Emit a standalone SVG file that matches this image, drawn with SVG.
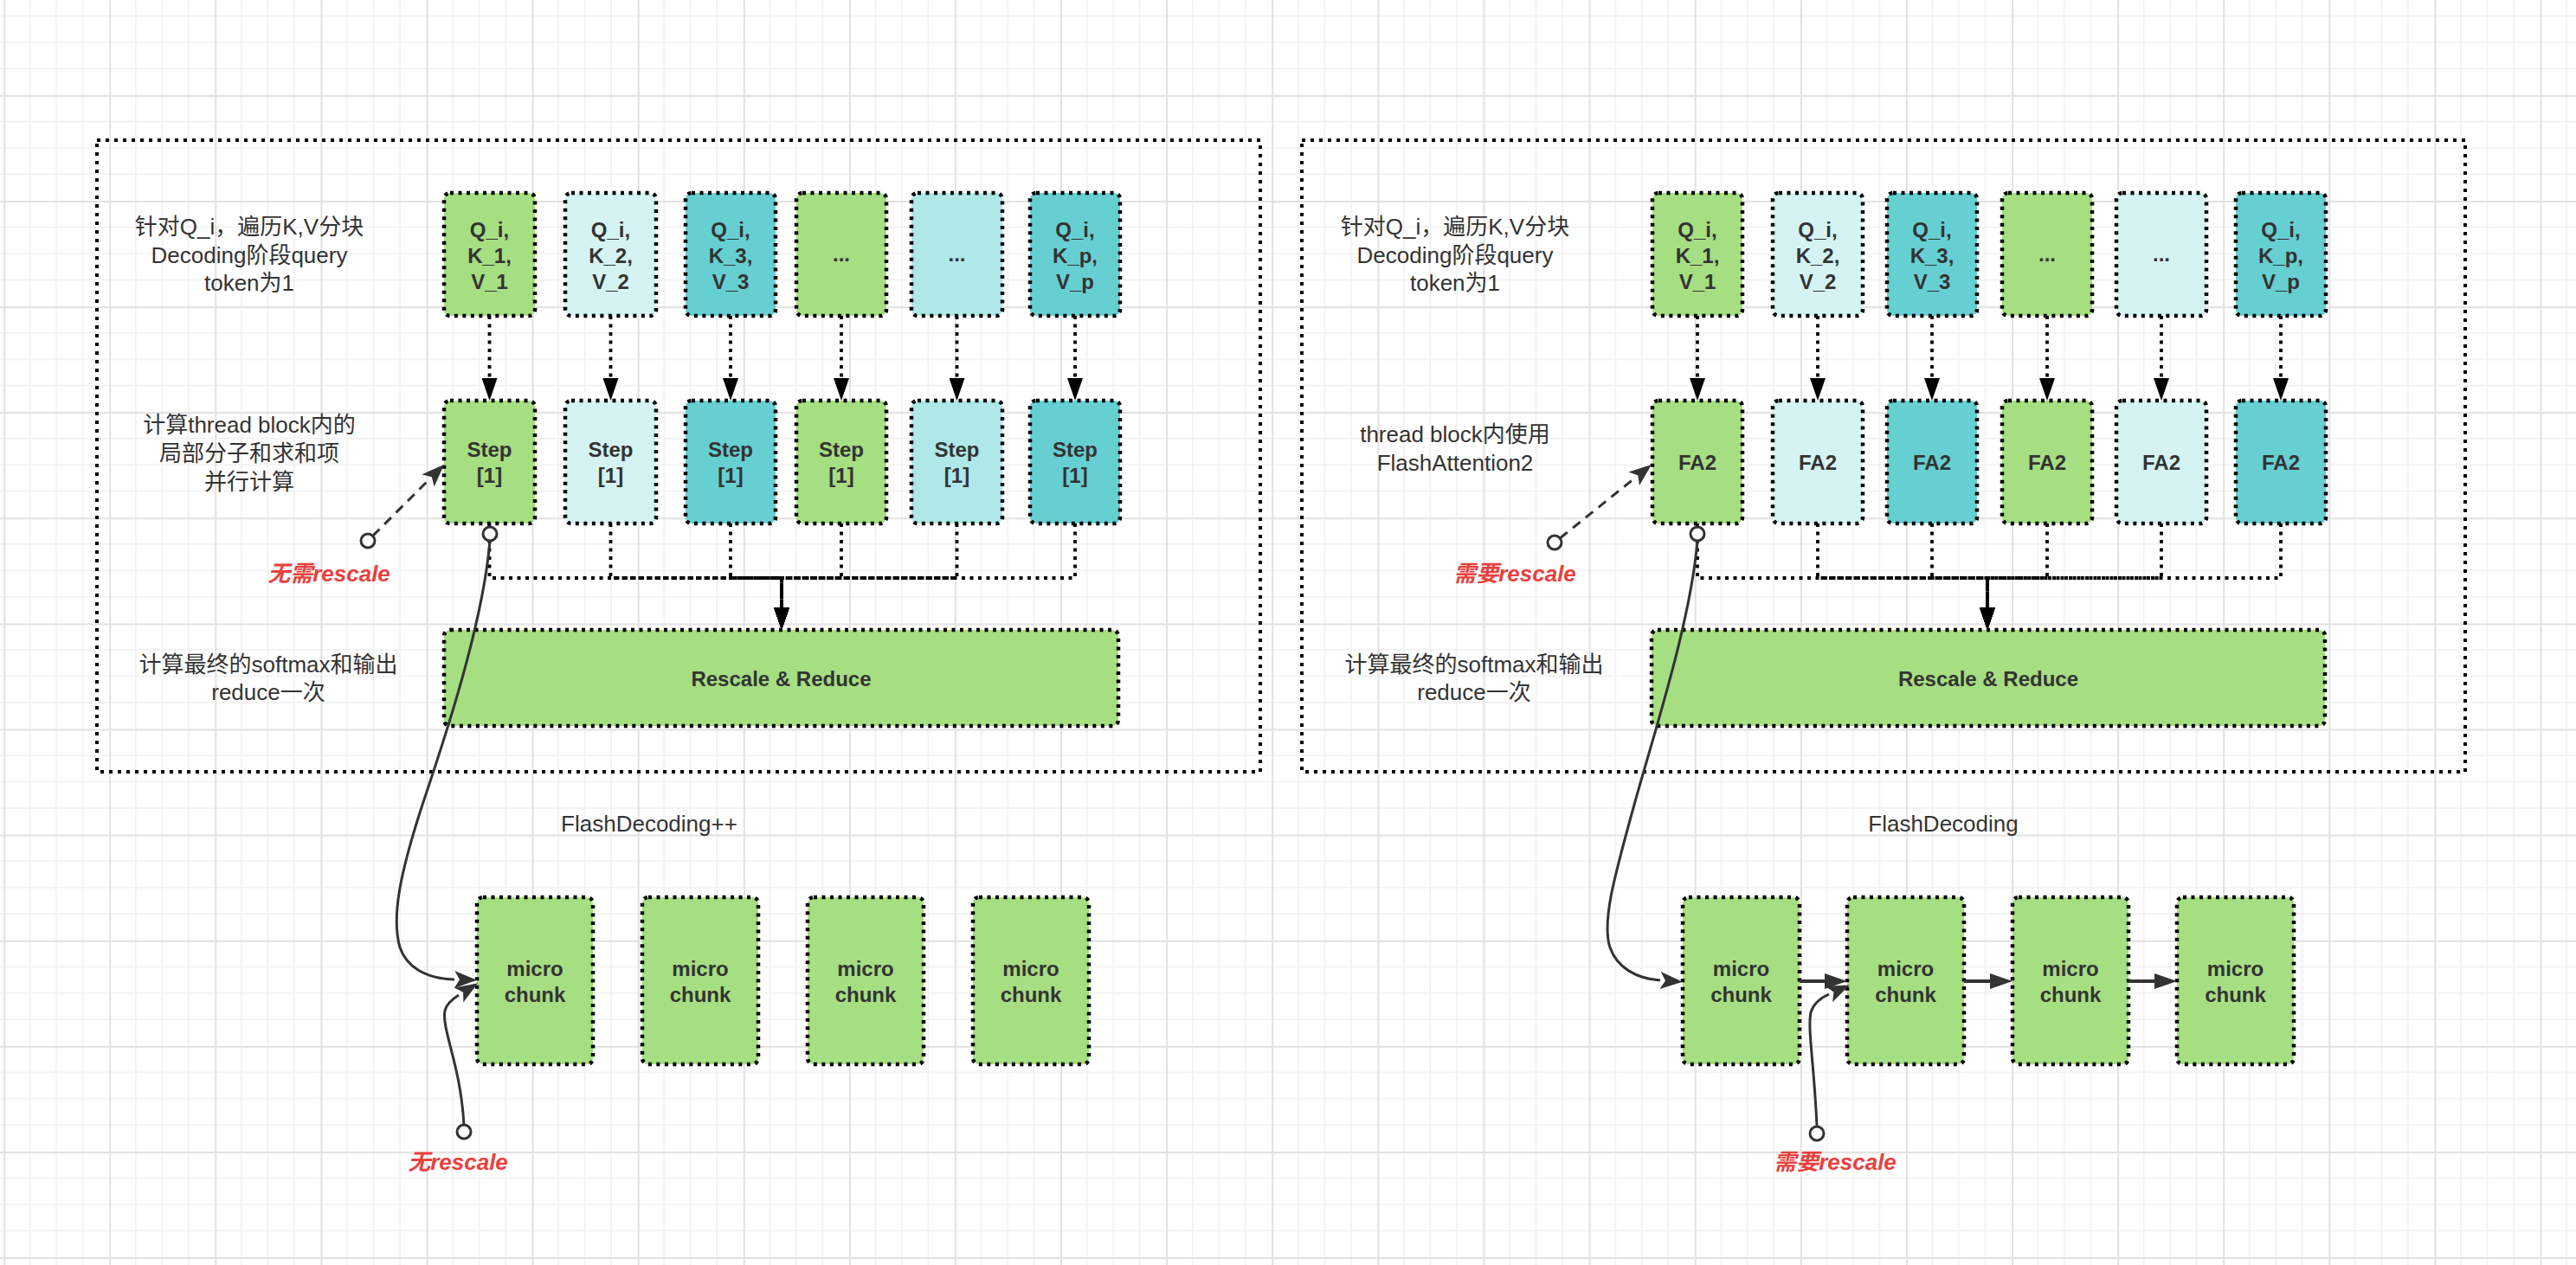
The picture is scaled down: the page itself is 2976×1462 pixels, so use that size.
<svg xmlns="http://www.w3.org/2000/svg" width="2976" height="1462" viewBox="0 0 2976 1462">
<defs>
<pattern id="grid" x="4.1" y="-12.2" width="122.1" height="122.1" patternUnits="userSpaceOnUse">
<path d="M30.5,0V122.1M61.05,0V122.1M91.6,0V122.1M0,30.5H122.1M0,61.05H122.1M0,91.6H122.1" stroke="#f0f0f0" stroke-width="1.6" fill="none"/>
<path d="M1,0V122.1M0,1H122.1" stroke="#e1e1e1" stroke-width="2" fill="none"/>
</pattern>
<marker id="blk" viewBox="0 0 26 18" refX="0" refY="9" markerWidth="26" markerHeight="18" markerUnits="userSpaceOnUse" orient="auto">
<path d="M0,0L26,9L0,18z" fill="#000"/>
</marker>
<marker id="blk2" viewBox="0 0 26 18" refX="0" refY="9" markerWidth="26" markerHeight="18" markerUnits="userSpaceOnUse" orient="auto">
<path d="M0,0L26,9L0,18z" fill="#333"/>
</marker>
<marker id="cls" viewBox="0 0 26 20" refX="0" refY="10" markerWidth="26" markerHeight="20" markerUnits="userSpaceOnUse" orient="auto">
<path d="M0,0L26,10L0,20L6,10z" fill="#333"/>
</marker>
</defs>
<style>
.nd{stroke:#000;stroke-width:4.5;stroke-dasharray:4 5.5}
.g{fill:#a6de82}.l{fill:#d5f3f3}.m{fill:#aee8e9}.t{fill:#66cfd2}
.frame{fill:none;stroke:#000;stroke-width:4;stroke-dasharray:4 6}
.tx{font-family:"Liberation Sans","Noto Sans CJK SC",sans-serif;font-size:24px;font-weight:bold;fill:#333;text-anchor:middle}
.lb{font-family:"Liberation Sans","Noto Sans CJK SC",sans-serif;font-size:26px;fill:#333;text-anchor:middle}
.red{font-family:"Liberation Sans","Noto Sans CJK SC",sans-serif;font-size:26px;font-weight:bold;font-style:italic;fill:#e8413e;text-anchor:middle}
.dot{fill:none;stroke:#000;stroke-width:3.8;stroke-dasharray:4 5.5}
.dash{fill:none;stroke:#333;stroke-width:3;stroke-dasharray:11 8}
.sol{fill:none;stroke:#333;stroke-width:3}
.sol4{fill:none;stroke:#333;stroke-width:4}
.cir{fill:#fff;stroke:#333;stroke-width:3}
</style>
<rect width="2976" height="1462" fill="#fff"/>
<rect width="2976" height="1462" fill="url(#grid)"/>

<g id="frame-left"><rect class="frame" x="112" y="162" width="1344" height="730"/></g>
<g id="frame-right"><rect class="frame" x="1504" y="162" width="1344" height="730"/></g>

<g id="labels-left">
<text class="lb" x="288" y="271">针对Q_i，遍历K,V分块</text>
<text class="lb" x="288" y="304">Decoding阶段query</text>
<text class="lb" x="288" y="336">token为1</text>
<text class="lb" x="288" y="500">计算thread block内的</text>
<text class="lb" x="288" y="533">局部分子和求和项</text>
<text class="lb" x="288" y="566">并行计算</text>
<text class="lb" x="310" y="777">计算最终的softmax和输出</text>
<text class="lb" x="310" y="809">reduce一次</text>
<text class="lb" x="750" y="961">FlashDecoding++</text>
<text class="red" x="380" y="672">无需rescale</text>
<text class="red" x="529" y="1352">无rescale</text>
</g>
<g id="labels-right">
<text class="lb" x="1681" y="271">针对Q_i，遍历K,V分块</text>
<text class="lb" x="1681" y="304">Decoding阶段query</text>
<text class="lb" x="1681" y="336">token为1</text>
<text class="lb" x="1681" y="511">thread block内使用</text>
<text class="lb" x="1681" y="544">FlashAttention2</text>
<text class="lb" x="1703" y="777">计算最终的softmax和输出</text>
<text class="lb" x="1703" y="809">reduce一次</text>
<text class="lb" x="2245" y="961">FlashDecoding</text>
<text class="red" x="1750" y="672">需要rescale</text>
<text class="red" x="2120" y="1352">需要rescale</text>
</g>

<g id="L-q1"><rect class="nd g" x="513" y="223" width="105" height="142" rx="7"/><text class="tx" x="565.5" y="273.5">Q_i,</text><text class="tx" x="565.5" y="303.5">K_1,</text><text class="tx" x="565.5" y="333.5">V_1</text></g>
<g id="L-q2"><rect class="nd l" x="653" y="223" width="105" height="142" rx="7"/><text class="tx" x="705.5" y="273.5">Q_i,</text><text class="tx" x="705.5" y="303.5">K_2,</text><text class="tx" x="705.5" y="333.5">V_2</text></g>
<g id="L-q3"><rect class="nd t" x="792" y="223" width="104" height="142" rx="7"/><text class="tx" x="844" y="273.5">Q_i,</text><text class="tx" x="844" y="303.5">K_3,</text><text class="tx" x="844" y="333.5">V_3</text></g>
<g id="L-q4"><rect class="nd g" x="920" y="223" width="104" height="142" rx="7"/><text class="tx" x="972" y="302">...</text></g>
<g id="L-q5"><rect class="nd m" x="1053" y="223" width="105" height="142" rx="7"/><text class="tx" x="1105.5" y="302">...</text></g>
<g id="L-q6"><rect class="nd t" x="1190" y="223" width="104" height="142" rx="7"/><text class="tx" x="1242" y="273.5">Q_i,</text><text class="tx" x="1242" y="303.5">K_p,</text><text class="tx" x="1242" y="333.5">V_p</text></g>

<g id="L-s1"><rect class="nd g" x="513" y="463" width="105" height="142" rx="7"/><text class="tx" x="565.5" y="528">Step</text><text class="tx" x="565.5" y="558">[1]</text></g>
<g id="L-s2"><rect class="nd l" x="653" y="463" width="105" height="142" rx="7"/><text class="tx" x="705.5" y="528">Step</text><text class="tx" x="705.5" y="558">[1]</text></g>
<g id="L-s3"><rect class="nd t" x="792" y="463" width="104" height="142" rx="7"/><text class="tx" x="844" y="528">Step</text><text class="tx" x="844" y="558">[1]</text></g>
<g id="L-s4"><rect class="nd g" x="920" y="463" width="104" height="142" rx="7"/><text class="tx" x="972" y="528">Step</text><text class="tx" x="972" y="558">[1]</text></g>
<g id="L-s5"><rect class="nd m" x="1053" y="463" width="105" height="142" rx="7"/><text class="tx" x="1105.5" y="528">Step</text><text class="tx" x="1105.5" y="558">[1]</text></g>
<g id="L-s6"><rect class="nd t" x="1190" y="463" width="104" height="142" rx="7"/><text class="tx" x="1242" y="528">Step</text><text class="tx" x="1242" y="558">[1]</text></g>

<g id="L-reduce"><rect class="nd g" x="513" y="728" width="779" height="111" rx="7"/><text class="tx" x="902.5" y="792.5">Rescale &amp; Reduce</text></g>

<g id="L-mc1"><rect class="nd g" x="551" y="1037" width="134" height="193" rx="7"/><text class="tx" x="618" y="1127.5">micro</text><text class="tx" x="618" y="1157.5">chunk</text></g>
<g id="L-mc2"><rect class="nd g" x="742" y="1037" width="134" height="193" rx="7"/><text class="tx" x="809" y="1127.5">micro</text><text class="tx" x="809" y="1157.5">chunk</text></g>
<g id="L-mc3"><rect class="nd g" x="933" y="1037" width="134" height="193" rx="7"/><text class="tx" x="1000" y="1127.5">micro</text><text class="tx" x="1000" y="1157.5">chunk</text></g>
<g id="L-mc4"><rect class="nd g" x="1124" y="1037" width="134" height="193" rx="7"/><text class="tx" x="1191" y="1127.5">micro</text><text class="tx" x="1191" y="1157.5">chunk</text></g>

<g id="R-q1"><rect class="nd g" x="1909" y="223" width="104" height="142" rx="7"/><text class="tx" x="1961" y="273.5">Q_i,</text><text class="tx" x="1961" y="303.5">K_1,</text><text class="tx" x="1961" y="333.5">V_1</text></g>
<g id="R-q2"><rect class="nd l" x="2048" y="223" width="104" height="142" rx="7"/><text class="tx" x="2100" y="273.5">Q_i,</text><text class="tx" x="2100" y="303.5">K_2,</text><text class="tx" x="2100" y="333.5">V_2</text></g>
<g id="R-q3"><rect class="nd t" x="2180" y="223" width="104" height="142" rx="7"/><text class="tx" x="2232" y="273.5">Q_i,</text><text class="tx" x="2232" y="303.5">K_3,</text><text class="tx" x="2232" y="333.5">V_3</text></g>
<g id="R-q4"><rect class="nd g" x="2313" y="223" width="104" height="142" rx="7"/><text class="tx" x="2365" y="302">...</text></g>
<g id="R-q5"><rect class="nd l" x="2445" y="223" width="104" height="142" rx="7"/><text class="tx" x="2497" y="302">...</text></g>
<g id="R-q6"><rect class="nd t" x="2583" y="223" width="104" height="142" rx="7"/><text class="tx" x="2635" y="273.5">Q_i,</text><text class="tx" x="2635" y="303.5">K_p,</text><text class="tx" x="2635" y="333.5">V_p</text></g>

<g id="R-f1"><rect class="nd g" x="1909" y="463" width="104" height="142" rx="7"/><text class="tx" x="1961" y="542.5">FA2</text></g>
<g id="R-f2"><rect class="nd l" x="2048" y="463" width="104" height="142" rx="7"/><text class="tx" x="2100" y="542.5">FA2</text></g>
<g id="R-f3"><rect class="nd t" x="2180" y="463" width="104" height="142" rx="7"/><text class="tx" x="2232" y="542.5">FA2</text></g>
<g id="R-f4"><rect class="nd g" x="2313" y="463" width="104" height="142" rx="7"/><text class="tx" x="2365" y="542.5">FA2</text></g>
<g id="R-f5"><rect class="nd l" x="2445" y="463" width="104" height="142" rx="7"/><text class="tx" x="2497" y="542.5">FA2</text></g>
<g id="R-f6"><rect class="nd t" x="2583" y="463" width="104" height="142" rx="7"/><text class="tx" x="2635" y="542.5">FA2</text></g>

<g id="R-reduce"><rect class="nd g" x="1908" y="728" width="778" height="111" rx="7"/><text class="tx" x="2297" y="792.5">Rescale &amp; Reduce</text></g>

<g id="R-mc1"><rect class="nd g" x="1944" y="1037" width="135" height="193" rx="7"/><text class="tx" x="2011.5" y="1127.5">micro</text><text class="tx" x="2011.5" y="1157.5">chunk</text></g>
<g id="R-mc2"><rect class="nd g" x="2134" y="1037" width="135" height="193" rx="7"/><text class="tx" x="2201.5" y="1127.5">micro</text><text class="tx" x="2201.5" y="1157.5">chunk</text></g>
<g id="R-mc3"><rect class="nd g" x="2325" y="1037" width="134" height="193" rx="7"/><text class="tx" x="2392" y="1127.5">micro</text><text class="tx" x="2392" y="1157.5">chunk</text></g>
<g id="R-mc4"><rect class="nd g" x="2515" y="1037" width="135" height="193" rx="7"/><text class="tx" x="2582.5" y="1127.5">micro</text><text class="tx" x="2582.5" y="1157.5">chunk</text></g>

<g id="connectors">
<path class="dot" d="M565.5,365V437" marker-end="url(#blk)"/>
<path class="dot" d="M705.5,365V437" marker-end="url(#blk)"/>
<path class="dot" d="M844,365V437" marker-end="url(#blk)"/>
<path class="dot" d="M972,365V437" marker-end="url(#blk)"/>
<path class="dot" d="M1105.5,365V437" marker-end="url(#blk)"/>
<path class="dot" d="M1242,365V437" marker-end="url(#blk)"/>
<path class="dot" d="M565.5,605V668H903V702" marker-end="url(#blk)"/>
<path class="dot" d="M705.5,605V668H903V702" marker-end="url(#blk)"/>
<path class="dot" d="M844,605V668H903V702" marker-end="url(#blk)"/>
<path class="dot" d="M972,605V668H903V702" marker-end="url(#blk)"/>
<path class="dot" d="M1105.5,605V668H903V702" marker-end="url(#blk)"/>
<path class="dot" d="M1242,605V668H903V702" marker-end="url(#blk)"/>

<path class="dot" d="M1961,365V437" marker-end="url(#blk)"/>
<path class="dot" d="M2100,365V437" marker-end="url(#blk)"/>
<path class="dot" d="M2232,365V437" marker-end="url(#blk)"/>
<path class="dot" d="M2365,365V437" marker-end="url(#blk)"/>
<path class="dot" d="M2497,365V437" marker-end="url(#blk)"/>
<path class="dot" d="M2635,365V437" marker-end="url(#blk)"/>
<path class="dot" d="M1961,605V668H2296V702" marker-end="url(#blk)"/>
<path class="dot" d="M2100,605V668H2296V702" marker-end="url(#blk)"/>
<path class="dot" d="M2232,605V668H2296V702" marker-end="url(#blk)"/>
<path class="dot" d="M2365,605V668H2296V702" marker-end="url(#blk)"/>
<path class="dot" d="M2497,605V668H2296V702" marker-end="url(#blk)"/>
<path class="dot" d="M2635,605V668H2296V702" marker-end="url(#blk)"/>

<path class="dash" d="M430.7,619.3L494.6,555.4" marker-end="url(#cls)"/>
<circle class="cir" cx="425" cy="625" r="8"/>
<path class="dash" d="M1802.2,622L1887.7,553.3" marker-end="url(#cls)"/>
<circle class="cir" cx="1796" cy="627" r="8"/>

<path class="sol" d="M566,625C558,720 515,850 488,930C462,1010 452,1060 462,1095C470,1118 492,1131 525,1132" marker-end="url(#cls)"/>
<circle class="cir" cx="566" cy="617" r="8"/>
<path class="sol" d="M536,1300C532,1230 510,1190 514,1168C516,1160 522,1155 530,1150" marker-end="url(#cls)"/>
<circle class="cir" cx="536" cy="1308" r="8"/>

<path class="sol" d="M1961,625C1953,720 1910,850 1888,930C1866,1010 1850,1065 1860,1095C1868,1118 1890,1131 1918,1133" marker-end="url(#cls)"/>
<circle class="cir" cx="1961" cy="617" r="8"/>
<path class="sol" d="M2099,1302C2096,1230 2088,1190 2092,1170C2095,1160 2104,1153 2113,1149" marker-end="url(#cls)"/>
<circle class="cir" cx="2099" cy="1310" r="8"/>

<path class="sol4" d="M2079,1134H2108" marker-end="url(#blk2)"/>
<path class="sol4" d="M2269,1134H2299" marker-end="url(#blk2)"/>
<path class="sol4" d="M2459,1134H2489" marker-end="url(#blk2)"/>
</g>
</svg>
